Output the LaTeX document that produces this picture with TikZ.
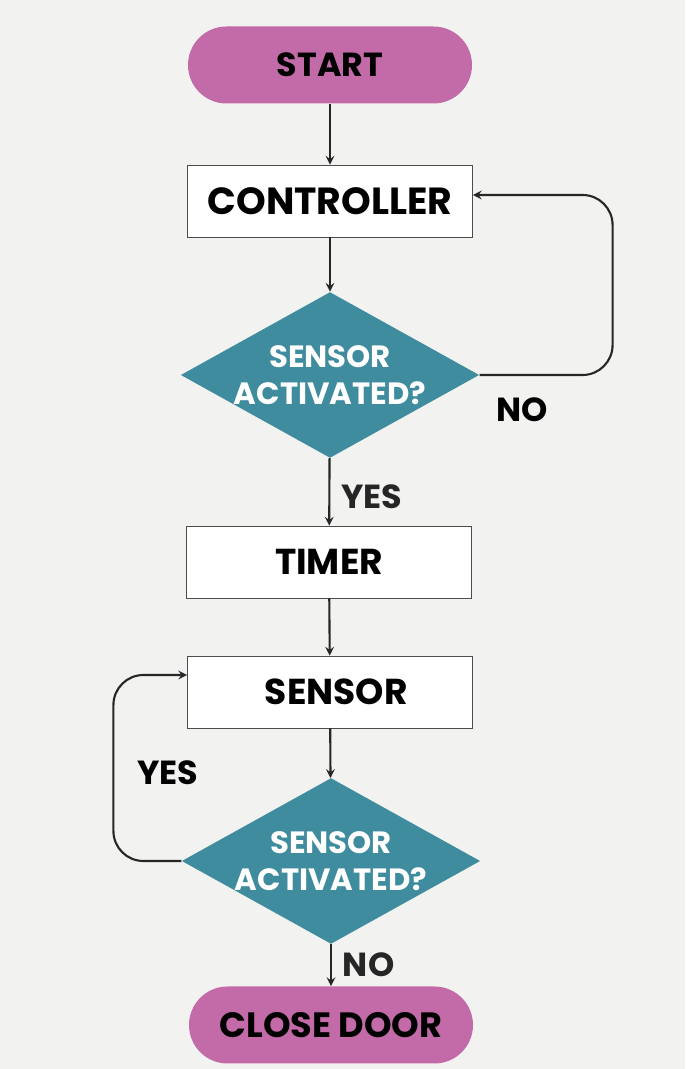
\documentclass[tikz,border=0pt]{standalone}
\usepackage{fontspec}
\setmainfont{Poppins}[BoldFont={* Bold}]
\usepackage{xcolor}
\usetikzlibrary{shapes,arrows,positioning,calc}
\definecolor{bgcol}{HTML}{F2F2F0}
\definecolor{pill}{HTML}{C36BA8}
\definecolor{teal}{HTML}{3E8C9E}
\begin{document}
\begin{tikzpicture}[
        terminal/.style={rectangle, rounded corners=0.77cm, fill=pill, minimum width=5.68cm, minimum height=1.54cm, font=\fontsize{19}{22}\selectfont\bfseries},
        block/.style={rectangle, draw=black!70, fill=white, minimum width=5.7cm, minimum height=1.44cm, font=\fontsize{20.5}{24}\selectfont\bfseries},
        decision/.style={diamond, fill=teal, minimum width=5.68cm, minimum height=3.1cm, aspect=1.8, inner sep=0pt, text=white, align=center, font=\fontsize{17.5}{21}\selectfont\bfseries},
        lbl/.style={font=\fontsize{19}{22}\selectfont\bfseries},
        arrow/.style={->, >=stealth, line width=1.2pt, black!85}
      ]
        \fill[bgcol] (0,0) rectangle (13.7,21.38);
        \useasboundingbox (0,0) rectangle (13.7,21.38);

        % Main column
        \node[terminal] (start) at (6.6,20.08) {START};
        \node[block] (ctrl) at (6.6,17.36) {\fontsize{21.5}{25}\selectfont CONTROLLER};
        \node[decision] (check1) at (6.6,13.88) {SENSOR\\ACTIVATED?};
        \node[block] (timer) at (6.58,10.14) {TIMER};
        \node[block] (sensor) at (6.6,7.54) {\hspace*{0.25cm}SENSOR};
        \node[decision] (check2) at (6.62,4.16) {SENSOR\\ACTIVATED?};
        \node[terminal] (close) at (6.62,0.88) {\fontsize{20}{23}\selectfont CLOSE DOOR};

        % Arrows
        \draw[arrow] (start) -- (ctrl);
        \draw[arrow] (ctrl) -- (check1);
        \draw[arrow] (check1) -- node[lbl, right=0.1cm, yshift=-0.1cm] {YES} (timer);
        \draw[arrow] (timer) -- (sensor);
        \draw[arrow] (sensor) -- (check2);
        \draw[arrow] (check2) -- node[lbl, right=0.1cm] {NO} (close);

        % Loops
        \draw[arrow, rounded corners=0.6cm] (check1.east) -- ++(2.66,0) |- ($(ctrl.east)+(0,0.12)$);
        \node[lbl] (no1) at (10.44,13.18) {NO};
        \draw[arrow, rounded corners=0.6cm] (check2.west) -- ++(-1.36,0) |- ($(sensor.west)+(0,0.34)$);
        \node[lbl] (yes2) at (3.36,5.92) {YES};
      \end{tikzpicture}
\end{document}
